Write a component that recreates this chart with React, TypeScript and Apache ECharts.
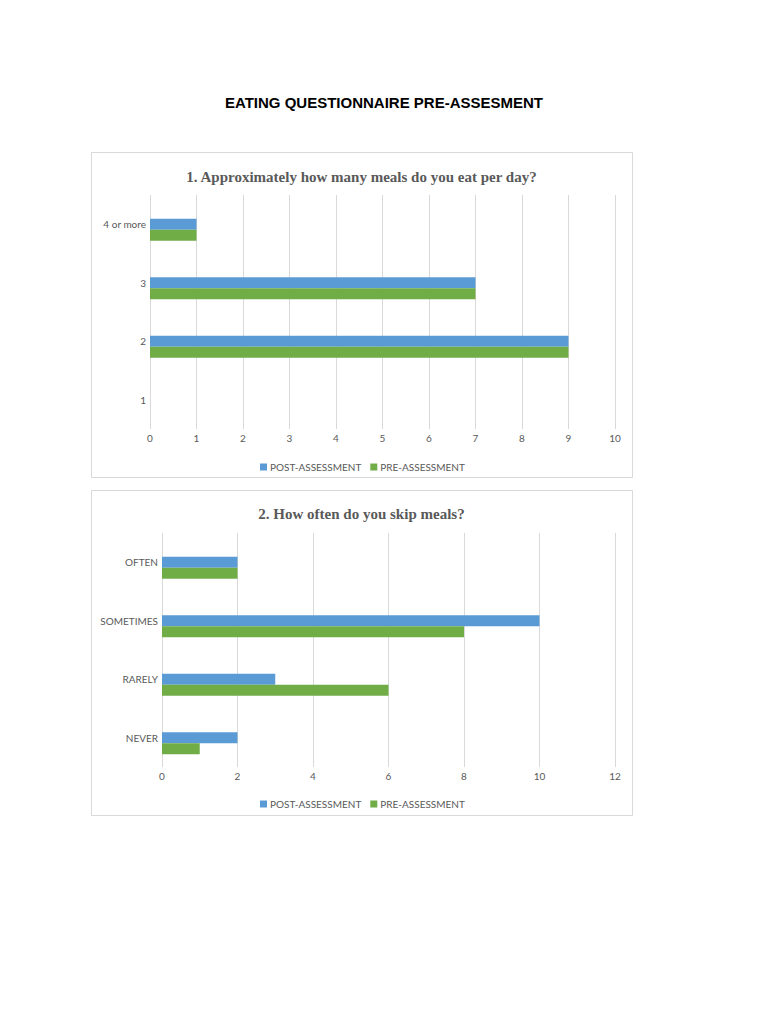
import React, { useEffect, useRef } from "react";
import * as echarts from "echarts";

const mealCategories = ["4 or more", "3", "2", "1"];
const mealPost = [1, 7, 9, 0];
const mealPre = [1, 7, 9, 0];

const skipCategories = ["OFTEN", "SOMETIMES", "RARELY", "NEVER"];
const skipPost = [2, 10, 3, 2];
const skipPre = [2, 8, 6, 1];

const seriesNames = ["POST-ASSESSMENT", "PRE-ASSESSMENT"];
const pageTitle = "EATING QUESTIONNAIRE PRE-ASSESMENT";
const chartTitles = [
  "1. Approximately how many meals do you eat per day?",
  "2. How often do you skip meals?",
];

const BLUE = "#5B9BD5";
const GREEN = "#70AD47";
const GRID = "#d9d9d9";
const TXT = "#595959";
const SANS = "Lato, 'Open Sans', sans-serif";

export default function App() {
  const ref = useRef<HTMLDivElement>(null);

  useEffect(() => {
    if (!ref.current) return;
    const chart = echarts.init(ref.current, undefined, { renderer: "svg" });

    const axisLabel = { color: TXT, fontSize: 10, fontFamily: SANS };
    const xAxisCommon = {
      type: "value" as const,
      axisLine: { show: false },
      axisTick: { show: false },
      splitLine: { lineStyle: { color: GRID, width: 1 } },
      axisLabel: { ...axisLabel, margin: 4 },
    };
    const yAxisCommon = {
      type: "category" as const,
      inverse: true,
      axisLine: { show: false },
      axisTick: { show: false },
      splitLine: { show: false },
      axisLabel: { ...axisLabel, margin: 4 },
    };
    const bar = (name: string, data: number[], color: string, idx: number) => ({
      type: "bar" as const,
      name,
      data,
      xAxisIndex: idx,
      yAxisIndex: idx,
      barWidth: 11,
      barGap: "0%",
      itemStyle: { color },
    });
    const legendCommon = {
      icon: "rect",
      itemWidth: 7,
      itemHeight: 7,
      itemGap: 9,
      textStyle: { color: TXT, fontSize: 10, fontFamily: SANS, padding: [0, 0, 0, -2] },
      selectedMode: false,
      data: seriesNames,
    };

    chart.setOption({
      animation: false,
      backgroundColor: "#ffffff",
      graphic: [
        {
          type: "text",
          x: 384,
          y: 102,
          style: {
            text: pageTitle,
            textAlign: "center",
            textVerticalAlign: "middle",
            font: "bold 15px 'Liberation Sans', Arial, sans-serif",
            fill: "#000000",
          },
        },
        {
          type: "rect",
          shape: { x: 91.5, y: 152.5, width: 541, height: 325 },
          style: { fill: "none", stroke: GRID, lineWidth: 1 },
        },
        {
          type: "rect",
          shape: { x: 91.5, y: 490.5, width: 541, height: 325 },
          style: { fill: "none", stroke: GRID, lineWidth: 1 },
        },
        {
          type: "text",
          x: 361.5,
          y: 177,
          style: {
            text: chartTitles[0],
            textAlign: "center",
            textVerticalAlign: "middle",
            font: "bold 15px 'Liberation Serif', 'Times New Roman', serif",
            fill: TXT,
          },
        },
        {
          type: "text",
          x: 361.5,
          y: 514,
          style: {
            text: chartTitles[1],
            textAlign: "center",
            textVerticalAlign: "middle",
            font: "bold 15px 'Liberation Serif', 'Times New Roman', serif",
            fill: TXT,
          },
        },
      ],
      legend: [
        { ...legendCommon, left: 255, top: 457 },
        { ...legendCommon, left: 255, top: 794 },
      ],
      grid: [
        { left: 150, width: 465, top: 195, height: 234 },
        { left: 162, width: 453, top: 533, height: 234 },
      ],
      xAxis: [
        { ...xAxisCommon, gridIndex: 0, min: 0, max: 10, interval: 1 },
        { ...xAxisCommon, gridIndex: 1, min: 0, max: 12, interval: 2 },
      ],
      yAxis: [
        { ...yAxisCommon, gridIndex: 0, data: mealCategories },
        { ...yAxisCommon, gridIndex: 1, data: skipCategories },
      ],
      series: [
        { ...bar("blank1", [0, 0, 0, 0], "transparent", 0) },
        bar(seriesNames[0], mealPost, BLUE, 0),
        bar(seriesNames[1], mealPre, GREEN, 0),
        { ...bar("blank2", [0, 0, 0, 0], "transparent", 1) },
        bar(seriesNames[0], skipPost, BLUE, 1),
        bar(seriesNames[1], skipPre, GREEN, 1),
      ],
    });

    return () => chart.dispose();
  }, []);

  return (
    <div
      ref={ref}
      style={{ position: "absolute", left: 0, top: 0, width: 768, height: 1024 }}
    />
  );
}
